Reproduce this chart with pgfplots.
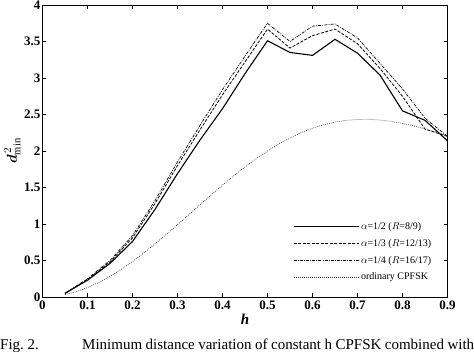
\documentclass[border=0pt]{standalone}
\usepackage{amsmath}
\usepackage{pgfplots}
\pgfplotsset{compat=1.18}
\usepackage{fontspec}
\setmainfont{Liberation Serif}
\begin{document}
\begin{tikzpicture}
\begin{axis}[
  at={(0pt,0pt)}, anchor=south west,
  scale only axis,
  width=405pt, height=292pt,
  xmin=0, xmax=0.9, ymin=0, ymax=4,
  xtick={0,0.1,...,0.9},
  xticklabels={0,0.1,0.2,0.3,0.4,0.5,0.6,0.7,0.8,0.9},
  ytick={0,0.5,...,4},
  yticklabels={0,0.5,1,1.5,2,2.5,3,3.5,4},
  tick label style={font=\fontsize{13}{15}\selectfont\bfseries},
  xticklabel style={yshift=-0.5pt},
  yticklabel style={xshift=1.5pt},
  axis line style={line width=0.9pt},
  tick style={line width=0.6pt, black},
  major tick length=4pt,
  xlabel={\textbf{\textit{h}}}, 
  xlabel style={font=\fontsize{15}{16}\selectfont, yshift=3pt},
  ylabel={$\boldsymbol{d}^{\,2}_{\min}$},
  ylabel style={font=\fontsize{15}{16}\selectfont, yshift=-3pt},
  legend style={draw=none, fill=none, at={(0.618,0.262)}, anchor=north west,
    font=\fontsize{10}{11}\selectfont, row sep=4.3pt, inner sep=0pt},
  legend cell align=left,
  legend image code/.code={\draw[#1] (0pt,0pt) -- (65pt,0pt);},
]
\addplot[black, line width=1.1pt] coordinates {
(0.05,0.05) (0.1,0.23) (0.15,0.46) (0.2,0.76) (0.25,1.2) (0.3,1.69) (0.35,2.15) (0.4,2.58)
(0.45,3.06) (0.5,3.51) (0.55,3.35) (0.6,3.31) (0.65,3.53) (0.7,3.34) (0.75,3.04)
(0.8,2.55) (0.85,2.42) (0.9,2.14)};
\addlegendentry{$\alpha$=1/2 ($R$=8/9)}
\addplot[black, line width=0.8pt, dash pattern=on 3pt off 1.5pt] coordinates {
(0.05,0.05) (0.1,0.24) (0.15,0.48) (0.2,0.81) (0.25,1.28) (0.3,1.8) (0.35,2.29) (0.4,2.77)
(0.45,3.22) (0.5,3.67) (0.55,3.41) (0.6,3.58) (0.65,3.67) (0.7,3.47) (0.75,3.13)
(0.8,2.75) (0.85,2.3) (0.9,2.2)};
\addlegendentry{$\alpha$=1/3 ($R$=12/13)}
\addplot[black, line width=0.7pt, dash pattern=on 3pt off 1.2pt on 0.8pt off 1.2pt] coordinates {
(0.05,0.05) (0.1,0.25) (0.15,0.5) (0.2,0.84) (0.25,1.32) (0.3,1.85) (0.35,2.35) (0.4,2.84)
(0.45,3.3) (0.5,3.75) (0.55,3.5) (0.6,3.71) (0.65,3.74) (0.7,3.55) (0.75,3.2)
(0.8,2.85) (0.85,2.45) (0.9,2.2)};
\addlegendentry{$\alpha$=1/4 ($R$=16/17)}
\addplot[black!75, line width=0.7pt, dash pattern=on 0.8pt off 1.2pt] coordinates {
(0.05,0.033) (0.075,0.073) (0.1,0.129) (0.125,0.199) (0.15,0.283) (0.175,0.379)
(0.2,0.486) (0.225,0.603) (0.25,0.727) (0.275,0.857) (0.3,0.991) (0.325,1.127)
(0.35,1.264) (0.375,1.400) (0.4,1.532) (0.425,1.660) (0.45,1.781) (0.475,1.895)
(0.5,2.0) (0.525,2.095) (0.55,2.179) (0.575,2.251) (0.6,2.312) (0.625,2.360)
(0.65,2.396) (0.675,2.420) (0.7,2.432) (0.725,2.434) (0.75,2.424) (0.775,2.406)
(0.8,2.378) (0.825,2.344) (0.85,2.303) (0.875,2.257) (0.9,2.208)};
\addlegendentry{ordinary CPFSK}
\end{axis}
\node[anchor=base west, inner sep=0pt] at (-42.5pt,-53pt)
  {\fontsize{15}{17}\selectfont Fig.~2.};
\node[anchor=base west, inner sep=0pt] at (39.5pt,-53pt)
  {\fontsize{15}{17}\selectfont\makebox[392pt][s]{Minimum distance variation of constant h CPFSK combined with}};
\pgfresetboundingbox
\path (-42.5pt,-55pt) rectangle (431.5pt,297pt);
\end{tikzpicture}
\end{document}
